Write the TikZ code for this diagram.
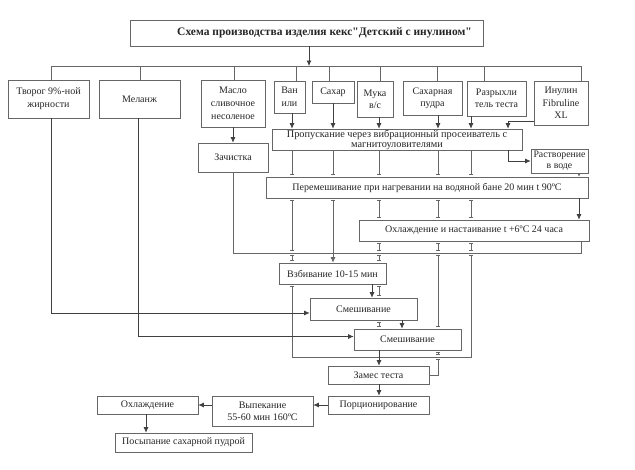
\documentclass[tikz,border=0pt]{standalone}
\usepackage{fontspec}
\setmainfont{Liberation Serif}
\usetikzlibrary{arrows.meta}
\begin{document}
\begin{tikzpicture}[x=1pt,y=-1pt,
  box/.style={draw=black!60, line width=0.7pt, inner sep=0pt, align=center,
    font=\fontsize{10}{13}\selectfont, text=black!85},
  ln/.style={draw=black!60, line width=0.7pt},
  arr/.style={ln, -{Latex[length=5.5pt,width=5pt]}, draw=black!75},
  sarr/.style={ln, -{Latex[length=3pt,width=3pt]}},
  bars/.style={ln, {Bar[width=4pt]}-{Bar[width=4pt]}, shorten <=2pt, shorten >=2pt},
]
\useasboundingbox (0,0) rectangle (635,469);
\fill[white] (0,0) rectangle (635,469);

% boxes
\node[box, minimum width=353pt, minimum height=26pt, font=\fontsize{11.5}{13}\selectfont\bfseries] (title) at (306.5,33) {\hspace*{36pt}Схема производства изделия кекс\textquotedbl Детский с инулином\textquotedbl};
\node[box, minimum width=81pt, minimum height=38pt] (tvor) at (48.5,99) {Творог 9\%-ной\\жирности};
\node[box, minimum width=81pt, minimum height=38pt] (mel) at (139.5,99) {Меланж};
\node[box, minimum width=64pt, minimum height=47pt] (maslo) at (233,103.5) {Масло\\сливочное\\несоленое};
\node[box, minimum width=31pt, minimum height=32pt] (van) at (289.5,97) {Ван\\или};
\node[box, minimum width=42pt, minimum height=22pt] (sah) at (333,92) {Сахар};
\node[box, minimum width=36pt, minimum height=36pt, font=\fontsize{10}{12}\selectfont] (muka) at (375,99) {Мука\\в/с};
\node[box, minimum width=59pt, minimum height=34pt, font=\fontsize{10}{12}\selectfont] (pudra) at (432.5,98) {Сахарная\\пудра};
\node[box, minimum width=59pt, minimum height=35pt, font=\fontsize{10}{12}\selectfont] (razr) at (496.5,98.5) {Разрыхли\\тель теста};
\node[box, minimum width=54pt, minimum height=44pt, font=\fontsize{10}{12.5}\selectfont] (inul) at (561,103) {Инулин\\Fibruline\\XL};
\node[box, minimum width=70pt, minimum height=29pt] (zach) at (233,157.5) {Зачистка};
\node[box, minimum width=250pt, minimum height=21pt, font=\fontsize{10.3}{10}\selectfont] (prop) at (397,139.5) {Пропускание через вибрационный просеиватель с\\магнитоуловителями};
\node[box, minimum width=57pt, minimum height=24pt, font=\fontsize{9.8}{11}\selectfont] (rast) at (559.5,161) {Растворение\\в воде};
\node[box, minimum width=322pt, minimum height=21pt] (perem) at (427,187.5) {Перемешивание при нагревании на водяной бане 20 мин t 90ºC};
\node[box, minimum width=230pt, minimum height=21pt] (cool) at (474,230.5) {Охлаждение и настаивание t +6ºC 24 часа};
\node[box, minimum width=107pt, minimum height=21pt] (vzb) at (332.5,273.5) {Взбивание 10-15 мин};
\node[box, minimum width=107pt, minimum height=22pt] (sm1) at (363.5,309) {Смешивание};
\node[box, minimum width=107pt, minimum height=21pt] (sm2) at (407.5,339.5) {Смешивание};
\node[box, minimum width=101pt, minimum height=18pt] (zames) at (378.5,375) {Замес теста};
\node[box, minimum width=101pt, minimum height=18pt] (porc) at (378.5,405) {Порционирование};
\node[box, minimum width=101pt, minimum height=30pt, font=\fontsize{10}{12}\selectfont] (vyp) at (262.5,411) {Выпекание\\55-60 мин 160ºC};
\node[box, minimum width=101pt, minimum height=18pt] (ohl) at (147.5,405) {Охлаждение};
\node[box, minimum width=137pt, minimum height=19pt] (pos) at (183.5,442.5) {Посыпание сахарной пудрой};

% column and row coordinates
\coordinate (bus) at (0,66);
\coordinate (busL) at (51,66);
\coordinate (busR) at (581,66);
\coordinate (cT) at (51,0);
\coordinate (cM) at (138,0);
\coordinate (cB) at (233,0);
\coordinate (cV) at (292,0);
\coordinate (cS) at (333,0);
\coordinate (cF) at (379,0);
\coordinate (cP) at (438,0);
\coordinate (cR) at (471,0);
\coordinate (cI) at (508,0);
\coordinate (cW) at (579,0);
\coordinate (cE) at (581,0);
\coordinate (cX) at (372,0);
\coordinate (cY) at (402,0);
\coordinate (cZ) at (146,0);
\coordinate (hl) at (0,253);
\coordinate (hm) at (0,357);
\coordinate (tx) at (309,0);

% title and bus
\draw[arr] (title.south -| tx) -- (bus -| tx);
\draw[ln] (busL) -- (busR);
\draw[ln] (busL) -- (tvor.north -| busL);
\draw[ln] (bus -| 140,0) -- (mel.north -| 140,0);
\draw[ln] (bus -| 234,0) -- (maslo.north -| 234,0);
\draw[ln] (bus -| 296,0) -- (van.north -| 296,0);
\draw[ln] (bus -| 329,0) -- (sah.north -| 329,0);
\draw[ln] (bus -| 380,0) -- (muka.north -| 380,0);
\draw[ln] (bus -| 437,0) -- (pudra.north -| 437,0);
\draw[ln] (bus -| 484,0) -- (razr.north -| 484,0);
\draw[ln] (busR) -- (inul.north -| busR);

% into sieve
\draw[arr] (van.south -| cV) -- (prop.north -| cV);
\draw[arr] (sah.south -| cS) -- (prop.north -| cS);
\draw[arr] (muka.south -| cF) -- (prop.north -| cF);
\draw[arr] (pudra.south -| cP) -- (prop.north -| cP);
\draw[arr] (razr.south -| cR) -- (prop.north -| cR);
\draw[arr] ([yshift=4pt]inul.south west) -| (prop.north -| cI);

% butter
\draw[arr] (maslo.south -| cB) -- (zach.north -| cB);

% sieve -> dissolve, dissolve -> heating
\draw[arr] (prop.south -| cI) |- (rast.west);
\draw[sarr] (rast.south -| cW) -- (perem.north -| cW);

% sieve -> heating
\foreach \c in {cV,cS,cF,cP,cR}
  \draw[ln, -{Bar[width=4pt]}, shorten >=2pt] (prop.south -| \c) -- (perem.north -| \c);

% heating -> cooling
\foreach \c in {cF,cP,cR}
  \draw[bars] (perem.south -| \c) -- (cool.north -| \c);
\draw[arr] (perem.south -| cW) -- (cool.north -| cW);

% collecting line
\draw[ln] (zach.south -| cB) |- (hl -| cE) -- (cool.south -| cE);

% heating -> whipping
\draw[bars] (perem.south -| cV) -- (hl -| cV);
\draw[bars] (hl -| cV) -- (vzb.north -| cV);
\draw[ln, {Bar[width=4pt]}-{Latex[length=5.5pt,width=5pt]}, shorten <=2pt] (perem.south -| cS) -- (vzb.north -| cS);
\draw[bars] (cool.south -| cF) -- (hl -| cF);
\draw[bars] (hl -| cF) -- (vzb.north -| cF);
\draw[bars] (cool.south -| cP) -- (hl -| cP);
\draw[bars] (hl -| cP) -- (sm2.north -| cP);
\draw[bars] (cool.south -| cR) -- (hl -| cR);
\draw[bars] (hl -| cR) -- (hm -| cR) -- (hm -| cV) -- (vzb.south -| cV);

% whipping -> mixing
\draw[arr] (vzb.south -| cX) -- (sm1.north -| cX);
\draw[bars] (vzb.south -| cF) -- (sm1.north -| cF);
\draw[bars] (sm1.south -| cF) -- (sm2.north -| cF);
\draw[arr] (sm1.south -| cY) -- (sm2.north -| cY);

% curd and melange
\draw[arr] (tvor.south -| cT) |- ([yshift=-4pt]sm1.west);
\draw[arr] (mel.south -| cM) |- ([yshift=3pt]sm2.west);

% mixing -> dough
\draw[arr] (sm2.south -| cF) -- (zames.north -| cF);
\draw[bars] (sm2.south -| cP) -- (hm -| cP);
\draw[ln, {Bar[width=4pt]}-, shorten <=2pt] (hm -| cP) |- (zames.east);

% lower chain
\draw[arr] (zames.south -| cF) -- (porc.north -| cF);
\draw[arr] (porc.west) -- (porc.west -| vyp.east);
\draw[arr] (porc.west -| vyp.west) -- (porc.west -| ohl.east);
\draw[arr] (ohl.south -| cZ) -- (pos.north -| cZ);
\end{tikzpicture}
\end{document}
